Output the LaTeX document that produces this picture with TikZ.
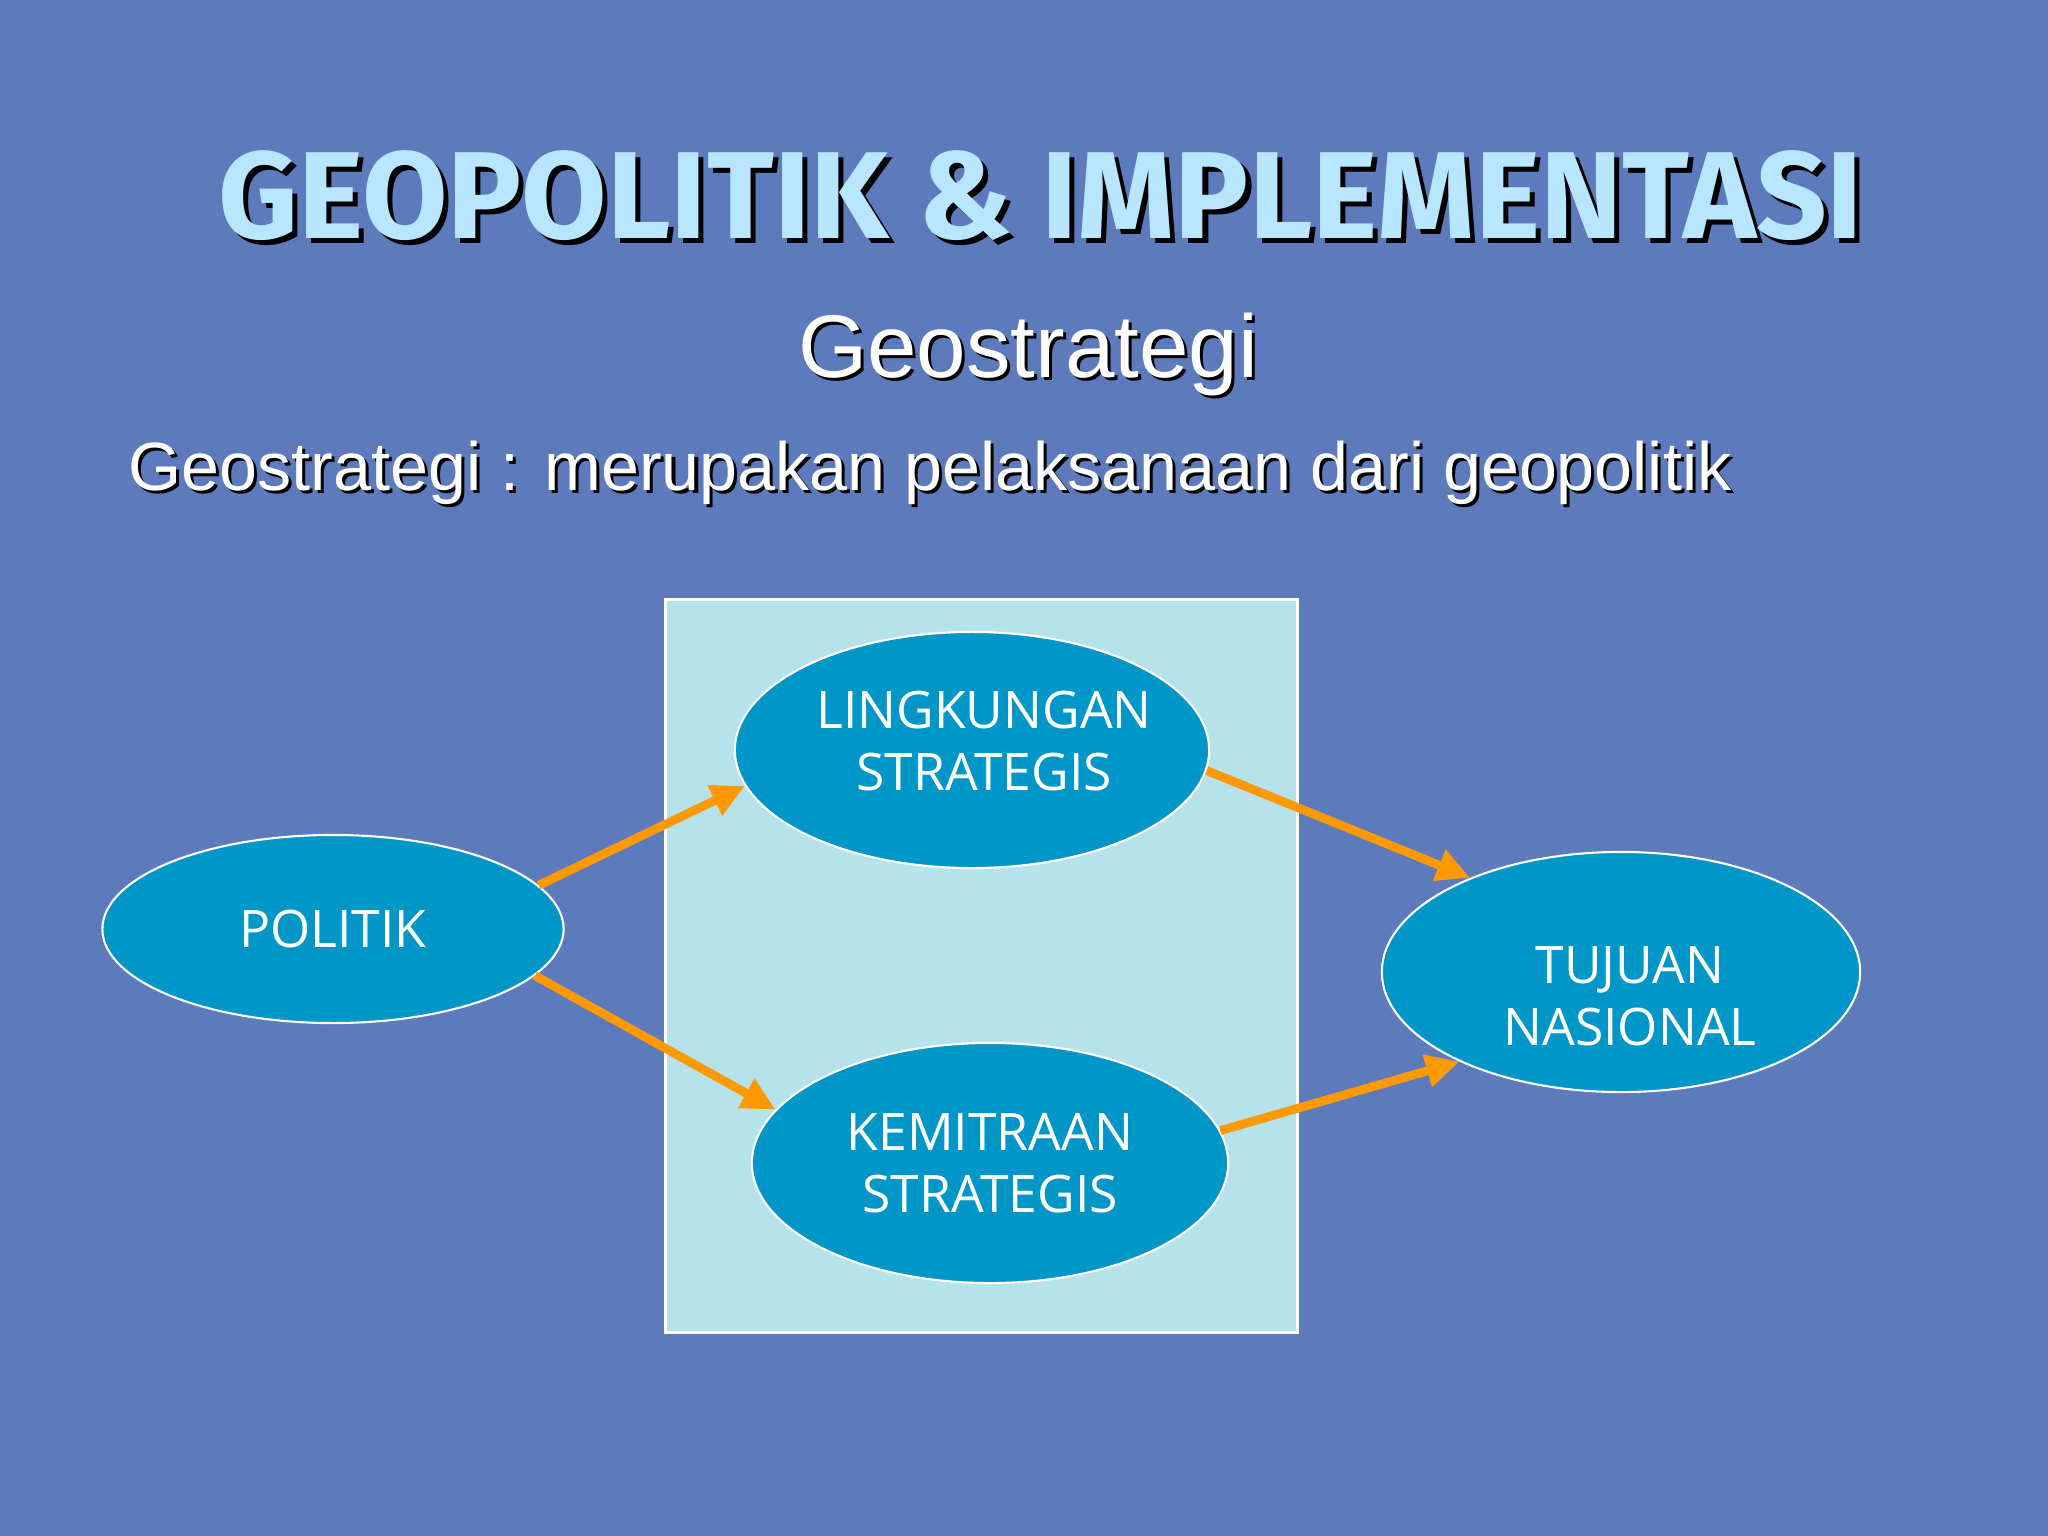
\documentclass[tikz,border=0pt]{standalone}
\usepackage{fontspec}
\setmainfont{Liberation Sans}
\newfontfamily\titlefont{Fira Sans}
\newfontfamily\blobfont{Open Sans}
\usetikzlibrary{arrows.meta,positioning,shapes.geometric}

\definecolor{bgblue}{RGB}{92,122,188}
\definecolor{waterblue}{RGB}{182,226,236}
\definecolor{blobblue}{RGB}{0,150,200}
\definecolor{titleblue}{RGB}{185,230,255}
\definecolor{arrorange}{RGB}{255,153,0}

\tikzset{
  teks/.style={inner sep=0pt},
  blobtext/.style={text=white, align=center, font=\blobfont\fontsize{14.7}{17.6}\selectfont},
  blob/.style={ellipse, fill=blobblue, draw=white, line width=0.6pt, inner sep=0pt, blobtext},
  flow/.style={draw=arrorange, line width=2.5pt, -{Triangle[length=9.5pt,width=9pt]}}
}

\begin{document}
\begin{tikzpicture}[x=0.01cm, y=-0.01cm]
\fill[bgblue] (0,0) rectangle (2048,1536);
\useasboundingbox (0,0) rectangle (2048,1536);

% judul dan teks
\node[teks, anchor=base, text=black, font=\titlefont\bfseries\fontsize{35.2}{41}\selectfont] (judul-bayang) at (1046,243) {GEOPOLITIK \& IMPLEMENTASI};
\node[teks, anchor=base, text=titleblue, font=\titlefont\bfseries\fontsize{35.2}{41}\selectfont] (judul) at (1041,238) {GEOPOLITIK \& IMPLEMENTASI};

\node[teks, anchor=base, text=black, font=\fontsize{25.3}{30}\selectfont] (subjudul-bayang) at (1031,380) {Geostrategi};
\node[teks, anchor=base, text=white, font=\fontsize{25.3}{30}\selectfont] (subjudul) at (1028,377) {Geostrategi};

\node[teks, anchor=base west, text=black, font=\fontsize{19.4}{23}\selectfont] (isi-bayang) at (131,493) {Geostrategi : merupakan pelaksanaan dari geopolitik};
\node[teks, anchor=base west, text=white, font=\fontsize{19.4}{23}\selectfont] (isi) at (128,490) {Geostrategi : merupakan pelaksanaan dari geopolitik};

% -------------------------------

\node[draw=white, line width=0.8pt, fill=waterblue, minimum width=6.31cm, minimum height=7.32cm, inner sep=0pt] (kotak) at (981.5,966) {};

\node[blob, minimum width=4.61cm, minimum height=1.88cm] (politik) at (333,929) {POLITIK};
\node[blob, minimum width=4.74cm, minimum height=2.36cm, label={[blobtext, xshift=0.12cm, yshift=0.09cm]center:LINGKUNGAN\\STRATEGIS}] (lingkungan) at (972,750) {};
\node[blob, minimum width=4.76cm, minimum height=2.40cm] (kemitraan) at (990,1163) {KEMITRAAN\\STRATEGIS};
\node[blob, minimum width=4.78cm, minimum height=2.40cm, label={[blobtext, xshift=0.09cm, yshift=-0.24cm]center:TUJUAN\\NASIONAL}] (tujuan) at (1621,972) {};

\draw[flow] (politik.12) -- (lingkungan.189);
\draw[flow] (politik.347.5) -- (kemitraan.166);
\draw[flow] (lingkungan.355.7) -- (tujuan.148.4);
\draw[flow] (kemitraan.8.5) -- (tujuan.209.2);
\end{tikzpicture}
\end{document}
